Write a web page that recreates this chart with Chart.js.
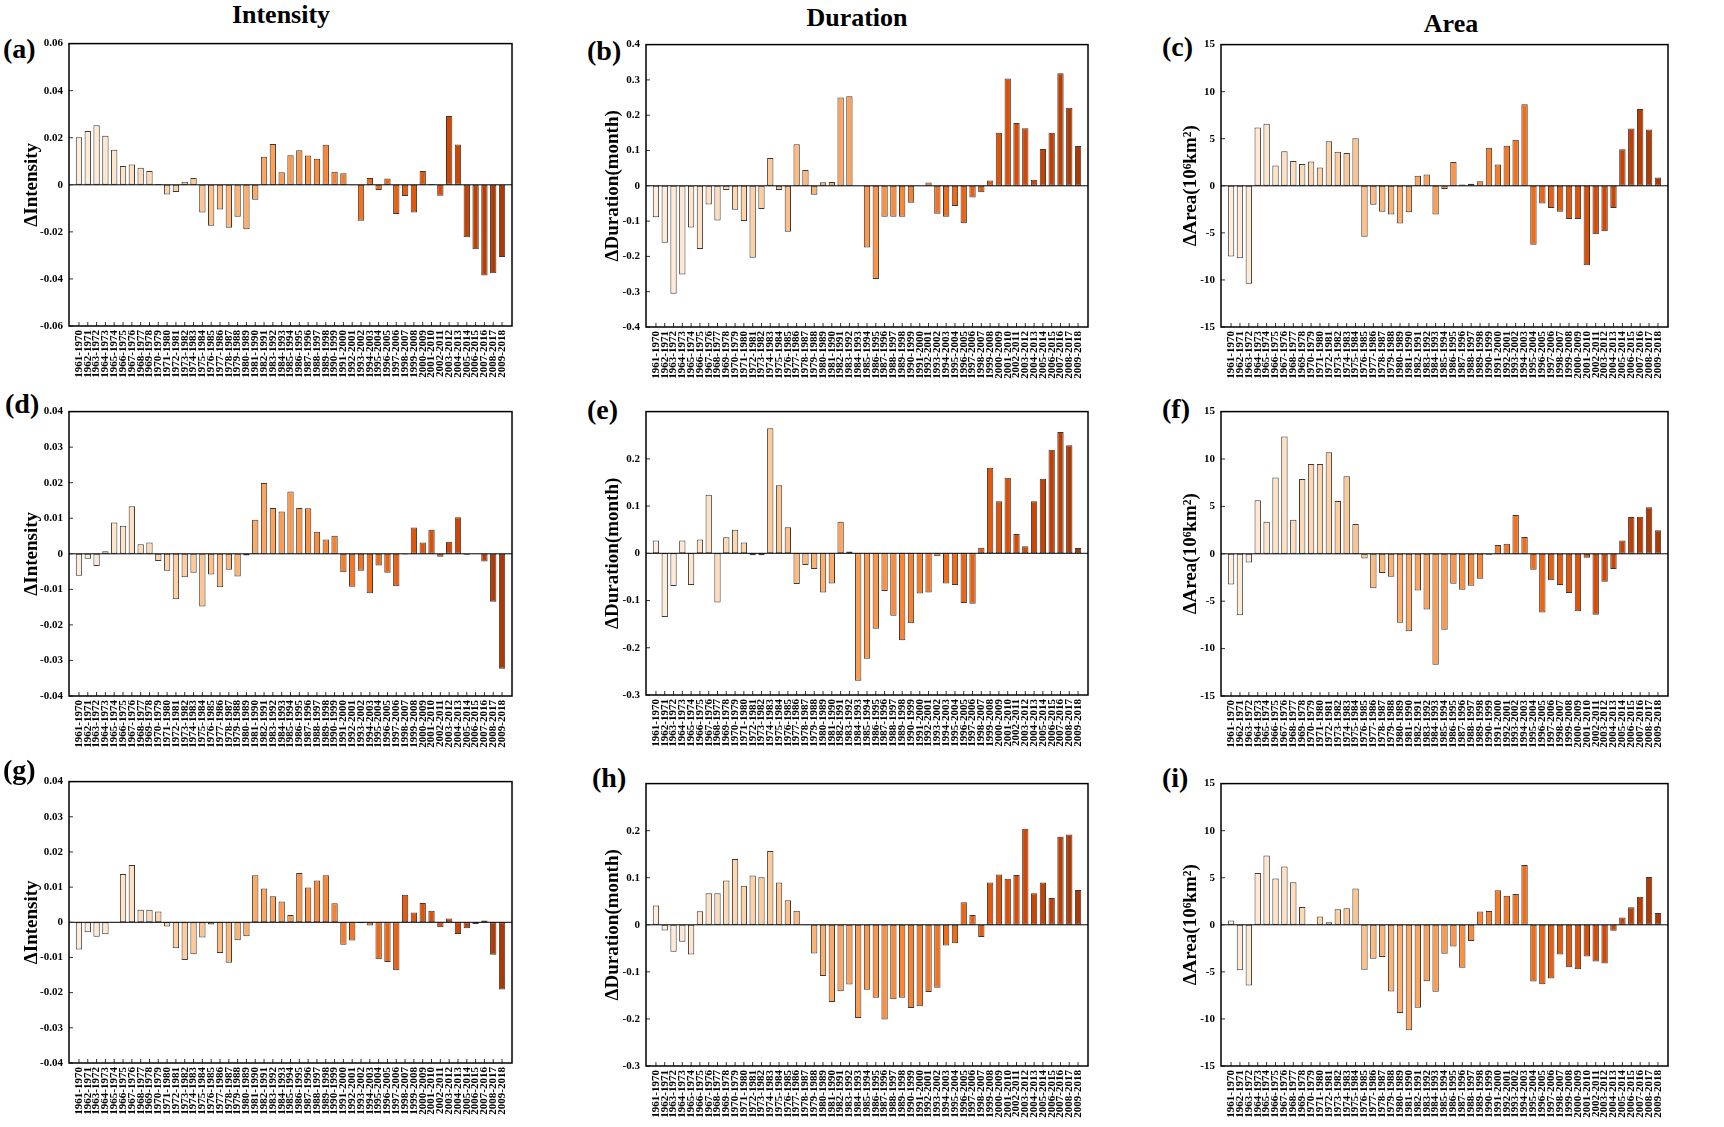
<!DOCTYPE html>
<html><head><meta charset="utf-8">
<script src="https://cdn.jsdelivr.net/npm/chart.js@4.4.1/dist/chart.umd.min.js"></script>
<style>
html,body{margin:0;padding:0;background:#fff;}
body{width:1724px;height:1127px;position:relative;overflow:hidden;font-family:"Liberation Serif","Times New Roman",serif;}
.box{position:absolute;}
.hdr{position:absolute;font-weight:bold;font-size:26px;line-height:26px;white-space:nowrap;transform:translateX(-50%);color:#000;}
.lab{position:absolute;font-weight:bold;font-size:28px;line-height:28px;white-space:nowrap;color:#000;}
</style></head>
<body>
<script>
// ---------------- DATA ----------------
const periods = ['1961-1970','1962-1971','1963-1972','1964-1973','1965-1974','1966-1975','1967-1976','1968-1977','1969-1978','1970-1979',
'1971-1980','1972-1981','1973-1982','1974-1983','1975-1984','1976-1985','1977-1986','1978-1987','1979-1988','1980-1989',
'1981-1990','1982-1991','1983-1992','1984-1993','1985-1994','1986-1995','1987-1996','1988-1997','1989-1998','1990-1999',
'1991-2000','1992-2001','1993-2002','1994-2003','1995-2004','1996-2005','1997-2006','1998-2007','1999-2008','2000-2009',
'2001-2010','2002-2011','2003-2012','2004-2013','2005-2014','2006-2015','2007-2016','2008-2017','2009-2018'];

const intensityA = [0.0202,0.0229,0.0253,0.0208,0.0149,0.0080,0.0086,0.0072,0.0059,0.0003,
-0.0041,-0.0031,0.0013,0.0029,-0.0118,-0.0174,-0.0105,-0.0182,-0.0136,-0.0189,
-0.0063,0.0119,0.0173,0.0053,0.0126,0.0147,0.0124,0.0111,0.0170,0.0055,
0.0049,-0.0002,-0.0153,0.0029,-0.0022,0.0027,-0.0124,-0.0048,-0.0118,0.0059,
0.0003,-0.0046,0.0292,0.0171,-0.0223,-0.0274,-0.0385,-0.0376,-0.0307];

const durationB = [-0.089,-0.161,-0.306,-0.251,-0.118,-0.179,-0.053,-0.098,-0.012,-0.068,
-0.100,-0.204,-0.066,0.079,-0.012,-0.130,0.118,0.045,-0.025,0.010,
0.011,0.250,0.254,0.0,-0.175,-0.264,-0.088,-0.088,-0.088,-0.048,
0.0,0.009,-0.079,-0.088,-0.057,-0.106,-0.033,-0.018,0.015,0.150,
0.304,0.178,0.163,0.017,0.104,0.150,0.319,0.221,0.113];

const areaC = [-7.5,-7.7,-10.4,6.2,6.6,2.15,3.66,2.64,2.32,2.57,
1.94,4.72,3.63,3.49,5.04,-5.42,-2.0,-2.75,-3.06,-4.01,
-2.82,1.06,1.2,-3.06,-0.35,2.54,0.14,0.21,0.49,4.05,
2.25,4.26,4.89,8.66,-6.27,-1.87,-2.36,-2.75,-3.52,-3.52,
-8.45,-5.14,-4.82,-2.36,3.87,6.09,8.17,5.99,0.88];

const intensityD = [-0.0062,-0.0014,-0.0034,0.0007,0.0088,0.0079,0.0134,0.0027,0.0032,-0.0020,
-0.0048,-0.0128,-0.0066,-0.0053,-0.0148,-0.0058,-0.0094,-0.0045,-0.0064,-0.0005,
0.0096,0.0199,0.0129,0.0119,0.0175,0.0129,0.0128,0.0062,0.0040,0.0051,
-0.0052,-0.0093,-0.0048,-0.0111,-0.0033,-0.0053,-0.0091,-0.0002,0.0074,0.0032,
0.0068,-0.0008,0.0034,0.0103,-0.0003,0.0001,-0.0022,-0.0135,-0.0323];

const durationE = [0.027,-0.135,-0.069,0.027,-0.067,0.029,0.124,-0.104,0.034,0.050,
0.023,-0.004,-0.004,0.265,0.144,0.055,-0.065,-0.025,-0.033,-0.083,
-0.064,0.067,0.004,-0.270,-0.223,-0.160,-0.080,-0.132,-0.184,-0.148,
-0.085,-0.083,-0.006,-0.064,-0.067,-0.105,-0.107,0.012,0.181,0.110,
0.160,0.041,0.015,0.110,0.158,0.219,0.257,0.229,0.011];

const areaF = [-3.25,-6.47,-0.91,5.66,3.39,8.04,12.38,3.60,7.90,9.48,
9.48,10.70,5.56,8.18,3.15,-0.49,-3.64,-2.03,-2.41,-7.27,
-8.18,-3.88,-5.87,-11.71,-8.01,-3.15,-3.78,-3.36,-2.62,-0.10,
0.94,1.05,4.09,1.78,-1.68,-6.19,-2.80,-3.29,-4.13,-6.05,
-0.42,-6.43,-2.94,-1.61,1.40,3.88,3.92,4.90,2.48];

const intensityG = [-0.0077,-0.0028,-0.0041,-0.0034,0.0001,0.0137,0.0163,0.0036,0.0036,0.0031,
-0.0012,-0.0074,-0.0107,-0.0091,-0.0043,-0.0006,-0.0087,-0.0115,-0.0051,-0.0040,
0.0134,0.0096,0.0074,0.0059,0.0021,0.0140,0.0099,0.0119,0.0134,0.0054,
-0.0064,-0.0052,-0.0003,-0.0009,-0.0105,-0.0113,-0.0136,0.0078,0.0028,0.0055,
0.0033,-0.0014,0.0011,-0.0033,-0.0017,-0.0005,0.0005,-0.0092,-0.0191];

const durationH = [0.041,-0.012,-0.057,-0.036,-0.063,0.029,0.067,0.067,0.094,0.140,
0.083,0.105,0.101,0.157,0.090,0.052,0.030,0.001,-0.061,-0.109,
-0.164,-0.141,-0.127,-0.198,-0.138,-0.155,-0.201,-0.158,-0.155,-0.177,
-0.173,-0.143,-0.134,-0.044,-0.039,0.048,0.021,-0.026,0.090,0.107,
0.098,0.106,0.204,0.067,0.090,0.057,0.187,0.192,0.074];

const areaI = [0.46,-4.84,-6.45,5.50,7.36,4.91,6.20,4.52,1.89,0.07,
0.88,0.28,1.65,1.75,3.85,-4.77,-3.61,-3.43,-7.08,-9.36,
-11.21,-8.80,-5.99,-7.11,-3.08,-2.31,-4.56,-1.72,1.40,1.47,
3.68,3.08,3.26,6.34,-6.03,-6.31,-5.71,-3.15,-4.52,-4.73,
-3.36,-3.89,-4.10,-0.63,0.77,1.86,2.98,5.08,1.26];

const intensityTicksA = [-0.06,-0.04,-0.02,0,0.02,0.04,0.06];
const durationTicksB = [-0.4,-0.3,-0.2,-0.1,0,0.1,0.2,0.3,0.4];
const areaTicks = [-15,-10,-5,0,5,10,15];
const intensityTicksDG = [-0.04,-0.03,-0.02,-0.01,0,0.01,0.02,0.03,0.04];
const durationTicksEH = [-0.3,-0.2,-0.1,0,0.1,0.2];

const columnTitles = ['Intensity','Duration','Area'];
const axisTitles = ['\u0394Intensity','\u0394Duration(month)','\u0394Area(10\u2076km\u00B2)'];
const panelLetters = ['(a)','(b)','(c)','(d)','(e)','(f)','(g)','(h)','(i)'];

// ---------------- STYLE / LAYOUT ----------------
const FONT = '"Liberation Serif","Times New Roman",serif';
Chart.defaults.font.family = FONT;
Chart.defaults.font.weight = 'bold';
Chart.defaults.color = '#000';

function oranges(t){
  const stops=['#fff5eb','#fee6ce','#fdd0a2','#fdae6b','#fd8d3c','#f16913','#d94801','#a63603','#7f2704'];
  const x=Math.max(0,Math.min(1,t))*8; const i=Math.min(7,Math.floor(x)); const f=x-i;
  const h=s=>[1,3,5].map(k=>parseInt(s.substr(k,2),16));
  const a=h(stops[i]), b=h(stops[i+1]);
  return 'rgb('+a.map((v,k)=>Math.round(v+(b[k]-v)*f)).join(',')+')';
}
const barColors = periods.map((_,i)=>oranges(0.06+0.8*i/48));

class EdgeCategoryScale extends Chart.CategoryScale {
  configure(){
    super.configure();
    const pad = this.options.edgePad;
    if (typeof pad === 'number') {
      this._startValue = this.min - pad;
      this._valueRange = (this.max - this.min) + 2*pad;
    }
  }
}
EdgeCategoryScale.id = 'edgeCategory';
EdgeCategoryScale.defaults = Chart.CategoryScale.defaults;
Chart.register(EdgeCategoryScale);

const framePlugin = {
  id:'frame',
  afterDatasetsDraw(chart){
    const {ctx, chartArea:a, scales:{x,y}} = chart;
    ctx.save();
    ctx.strokeStyle='#000';
    ctx.lineWidth=1;
    const z=y.getPixelForValue(0);
    ctx.beginPath(); ctx.moveTo(a.left,z); ctx.lineTo(a.right,z); ctx.stroke();
    ctx.strokeStyle='#333';
    ctx.beginPath();
    x.ticks.forEach((t,i)=>{const px=x.getPixelForTick(i); ctx.moveTo(px,a.bottom); ctx.lineTo(px,a.bottom-4);});
    y.ticks.forEach((t,i)=>{const py=y.getPixelForTick(i); ctx.moveTo(a.left,py); ctx.lineTo(a.left+4,py);});
    ctx.stroke();
    ctx.strokeStyle='#000';
    ctx.lineWidth=1.5;
    ctx.strokeRect(a.left,a.top,a.right-a.left,a.bottom-a.top);
    ctx.restore();
  }
};

const AX=65, PT=10, PR=10, XB=62;
const panels = [
 {values:intensityA, ticks:intensityTicksA, min:-0.06, max:0.06, col:0, L:69,  T:41,  W:443, H:285, lx:3,    ly:51},
 {values:durationB,  ticks:durationTicksB,  min:-0.4,  max:0.4,  col:1, L:646, T:42,  W:442, H:285, lx:587,  ly:53},
 {values:areaC,      ticks:areaTicks,       min:-15,   max:15,   col:2, L:1221,T:42,  W:447, H:285, lx:1162, ly:49},
 {values:intensityD, ticks:intensityTicksDG,min:-0.04, max:0.04, col:0, L:69,  T:409, W:443, H:287, lx:5,    ly:406},
 {values:durationE,  ticks:durationTicksEH, min:-0.3,  max:0.3,  col:1, L:646, T:409, W:442, H:286, lx:587,  ly:412},
 {values:areaF,      ticks:areaTicks,       min:-15,   max:15,   col:2, L:1221,T:409, W:447, H:287, lx:1162, ly:411},
 {values:intensityG, ticks:intensityTicksDG,min:-0.04, max:0.04, col:0, L:69,  T:779, W:443, H:284, lx:3,    ly:772},
 {values:durationH,  ticks:durationTicksEH, min:-0.3,  max:0.3,  col:1, L:646, T:781, W:442, H:285, lx:592,  ly:780},
 {values:areaI,      ticks:areaTicks,       min:-15,   max:15,   col:2, L:1221,T:781, W:447, H:285, lx:1162, ly:780}
];
const titlePad = [16.6, 20.6, 23.6];
const headerPos = [[281,2],[857,5],[1451,11]];

headerPos.forEach((p,i)=>{
  const d=document.createElement('div'); d.className='hdr'; d.textContent=columnTitles[i];
  d.style.left=p[0]+'px'; d.style.top=p[1]+'px'; document.body.appendChild(d);
});

panels.forEach((p,k)=>{
  const lab=document.createElement('div'); lab.className='lab'; lab.textContent=panelLetters[k];
  lab.style.left=p.lx+'px'; lab.style.top=(p.ly-16)+'px'; document.body.appendChild(lab);

  const w=p.W+AX+PR, h=p.H+PT+XB;
  const box=document.createElement('div'); box.className='box';
  box.style.left=(p.L-AX)+'px'; box.style.top=(p.T-PT)+'px'; box.style.width=w+'px'; box.style.height=h+'px';
  const cv=document.createElement('canvas'); cv.width=w; cv.height=h; cv.style.width=w+'px'; cv.style.height=h+'px';
  box.appendChild(cv); document.body.appendChild(box);

  new Chart(cv.getContext('2d'), {
    type:'bar',
    data:{labels:periods, datasets:[{data:p.values, backgroundColor:barColors, borderColor:'#3a3a3a', borderWidth:1, borderSkipped:false, barPercentage:0.9, categoryPercentage:0.8}]},
    options:{
      responsive:false, animation:false, devicePixelRatio:1,
      layout:{padding:{left:0,top:PT,right:PR,bottom:0}},
      plugins:{legend:{display:false}, tooltip:{enabled:false}},
      scales:{
        x:{type:'edgeCategory', edgePad:1.13, offset:false,
           grid:{display:false, drawTicks:false, offset:false}, border:{display:false},
           ticks:{autoSkip:false, minRotation:90, maxRotation:90, padding:4, font:{size:11, weight:'bold', family:FONT}, color:'#000'},
           afterFit:s=>{s.height=XB;}},
        y:{type:'linear', min:p.min, max:p.max,
           grid:{display:false, drawTicks:false}, border:{display:false},
           afterBuildTicks:s=>{s.ticks=p.ticks.map(v=>({value:v}));},
           ticks:{padding:6, font:{size:11, weight:'bold', family:FONT}, color:'#000', callback:v=>String(v)},
           title:{display:true, text:axisTitles[p.col], font:{size:19, weight:'bold', family:FONT}, color:'#000', padding:{top:titlePad[p.col], bottom:0}},
           afterFit:s=>{s.width=AX;}}
      }
    },
    plugins:[framePlugin]
  });
});
</script>
</body></html>
